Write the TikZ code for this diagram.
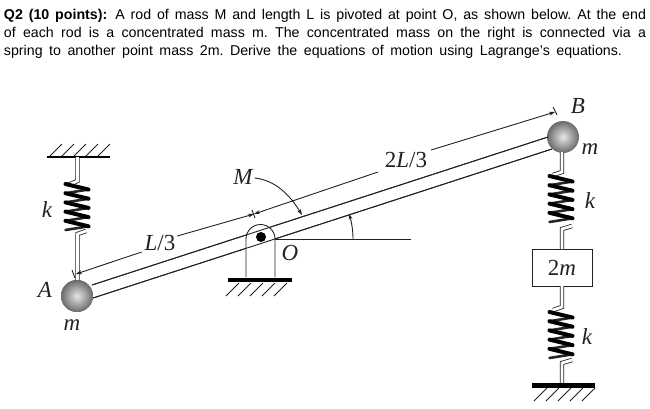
\documentclass[tikz,border=0pt]{standalone}
\usepackage{fontspec}
\setmainfont{Liberation Sans}
\newfontfamily\lblfont{Liberation Serif}
\usetikzlibrary{arrows.meta,calc}
\definecolor{ink}{HTML}{222222}
\definecolor{balllight}{HTML}{E6E6E6}
\definecolor{balldark}{HTML}{6A6A6A}
\frenchspacing
\tikzset{
  x=1pt,y=-1pt,
  every node/.style={inner sep=0pt,outer sep=0pt},
  txt/.style={anchor=base west,font=\fontsize{14.2}{16}\selectfont,text=black},
  lbl/.style={font=\lblfont\fontsize{23}{26}\selectfont,text=ink},
  ilbl/.style={font=\lblfont\itshape\fontsize{23}{26}\selectfont,text=ink},
  thin line/.style={draw=ink,line width=0.9pt},
  wire/.style={draw=ink,line width=0.8pt,double=white,double distance=2.8pt,line join=miter},
  coilf/.style={draw=black,line width=4pt,line cap=round},
  coilb/.style={draw=black!85,line width=2.6pt,line cap=round},
  wall/.style={draw=black,line width=2pt},
  hatchline/.style={draw=ink,line width=0.9pt},
  ball/.style={circle,minimum size=32pt,inner color=balllight,outer color=balldark,draw=none},
  tip/.style={-{Stealth[length=6pt,width=4pt]}},
}
% coil: centre x, top y, pitch
\newcommand{\coilat}[3]{%
  \foreach \i in {0,...,4}{
    \pgfmathsetmacro{\ya}{#2+\i*#3}
    \pgfmathsetmacro{\yb}{\ya+#3*0.6}
    \pgfmathsetmacro{\yc}{\ya+#3}
    \draw[coilb] (#1+11.5,\yb) -- (#1-11.5,\yc);
    \draw[coilf] (#1-11.5,\ya) -- (#1+11.5,\yb);
  }
}
% hatching: first x on the wall, y of wall, count, pitch
\newcommand{\hatchat}[4]{%
  \foreach \i in {0,...,#3}{
    \draw[hatchline] (#1+\i*#4,#2) -- ++(-13,13);
  }
}
\begin{document}
\begin{tikzpicture}
\useasboundingbox (0,0) rectangle (650,408);
\fill[white] (0,0) rectangle (650,408);

% question text
\node[txt] (t1) at (4,19) {\makebox[642pt][s]{\textbf{Q2 (10 points):}\hspace{8pt}A rod of mass M and length L is pivoted at point O, as shown below. At the end}};
\node[txt] (t2) at (4,37) {\makebox[642pt][s]{of each rod is a concentrated mass m. The concentrated mass on the right is connected via a}};
\node[txt] (t3) at (4,55) {\makebox[618pt][s]{spring to another point mass 2m. Derive the equations of motion using Lagrange’s equations.}};

% ground and supports
\coordinate (ceilL) at (47,157);
\coordinate (ceilR) at (110,157);
\coordinate (baseL) at (228,280);
\coordinate (baseR) at (292,280);
\coordinate (floorL) at (532,385);
\coordinate (floorR) at (595,385);

\hatchat{62}{144}{4}{12}
\draw[wall] (ceilL) -- (ceilR);

% rod
\node[ball] (A) at (77,296) {};
\node[ball] (B) at (563,137) {};
\coordinate (ru1) at (92,285);
\coordinate (ru2) at (548,137);
\coordinate (rl1) at (93,298);
\coordinate (rl2) at (552,149);
\draw[thin line] (ru1) -- (ru2);
\draw[thin line] (rl1) -- (rl2);

% springs: left
\draw[wire] (77.5,157) -- (77.5,181) -- (68,185);
\draw[wire] (77.5,280) -- (77.5,234) -- (86,231);
\coilat{77}{184}{9.2}
\node[ball] at (77,296) {};
% spring: top right
\node[draw=ink,line width=1pt,fill=white,minimum width=60pt,minimum height=37pt,lbl] (block) at (562,267.5) {2\textit{m}};
\draw[wire] (562,152) -- (562,172) -- (553,175);
\draw[wire] (block.north) -- (562,229) -- (572,226);
\coilat{561}{176}{9.2}
% spring: bottom right
\draw[wire] (block.south) -- (562,307) -- (553,310);
\draw[wire] (562,385) -- (562,363) -- (572,360);
\coilat{561}{312}{9.2}
\hatchat{547}{388}{4}{12}
\draw[wall,line width=5pt] (floorL) -- (floorR);

% pivot
\draw[thin line,fill=white] (246,277) -- (246,239) arc[start angle=180,end angle=360,radius=14.5] -- (275,277);
\draw[thin line] (ru1) -- (ru2);
\draw[thin line] (rl1) -- (rl2);
\node[circle,fill=black,minimum size=10pt] (pin) at (261,237) {};
\hatchat{239}{283}{4}{12}
\draw[wall,line width=4.5pt] (baseL) -- (baseR);

% angle
\coordinate (ang0) at (275,239);
\coordinate (angE) at (411,239);
\draw[thin line] (ang0) -- (angE);
\draw[thin line,tip] (353,239) arc[start angle=0,end angle=-19,radius=78];

% labels
\node[ilbl] (lA) at (45,290) {A};
\node[ilbl] (mA) at (72,325) {m};
\node[ilbl] (lB) at (578,106) {B};
\node[ilbl] (mB) at (590,149) {m};
\node[ilbl] (k1) at (47,210) {k};
\node[ilbl] (k2) at (590,201) {k};
\node[ilbl] (k3) at (587,337) {k};
\node[ilbl] (lO) at (290,253) {O};
\node[ilbl] (lM) at (243,177) {M};
\node[lbl] (l13) at (160,243) {\textit{L}/3};
\node[lbl] (l23) at (406,160) {2\textit{L}/3};

% dimension lines
\coordinate (d1) at (76,274);
\coordinate (d2) at (254,214);
\coordinate (d3) at (555,112);
\draw[thin line,tip] ($(l13.west)+(-3,9)$) -- (d1);
\draw[thin line,tip] ($(l13.east)+(2,-7)$) -- (d2);
\draw[thin line,tip] ($(l23.west)+(-7,12)$) -- (d2);
\draw[thin line,tip] ($(l23.east)+(4,-10)$) -- (d3);
\draw[thin line] (72,270) -- (75,278);
\draw[thin line] (252,210) -- (255,218);
\draw[thin line] (553,107) -- (557,115);

% M arrow
\draw[thin line,tip] ($(lM.east)+(2,1)$) .. controls (275,180) and (290,195) .. (302,215);
\end{tikzpicture}
\end{document}
